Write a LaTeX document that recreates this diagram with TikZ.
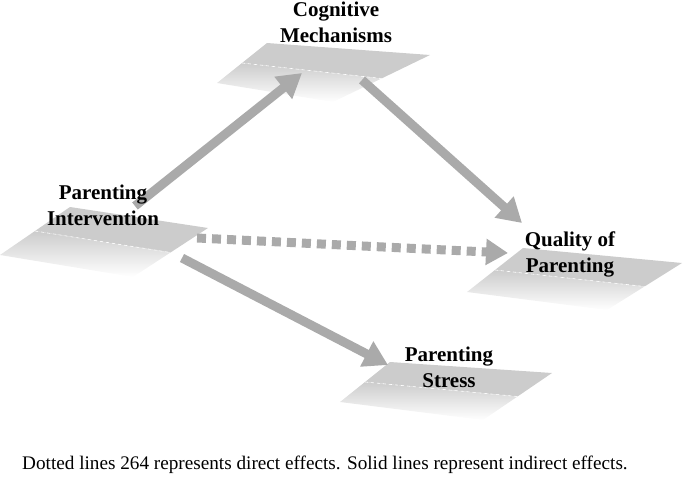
\documentclass[tikz,border=0pt]{standalone}
\usepackage{fontspec}
\setmainfont{Liberation Serif}
\usepackage{tikz}
\usetikzlibrary{arrows.meta, calc}
\definecolor{plategray}{RGB}{204,204,204}
\definecolor{arrowgray}{RGB}{170,170,170}

% tilted plate: corners top-left, top-right, bottom-right, bottom-left
\newcommand{\drawplate}[4]{%
  \coordinate (pa) at (#1);
  \coordinate (pb) at (#2);
  \coordinate (pc) at (#3);
  \coordinate (pd) at (#4);
  \coordinate (pm1) at ($(pa)!0.5!(pd)$);
  \coordinate (pm2) at ($(pb)!0.5!(pc)$);
  \fill[plategray] (pa) -- (pb) -- (pm2) -- (pm1) -- cycle;
  \shade[top color=plategray, bottom color=white] (pm1) -- (pm2) -- (pc) -- (pd) -- cycle;
  \draw[white, dashed, line width=0.6pt] (pm1) -- (pm2);}

\begin{document}
\begin{tikzpicture}[
    x=1pt, y=-1pt,
    plabel/.style={align=center, font=\fontsize{21}{26}\selectfont\bfseries, inner sep=0pt},
    note/.style={font=\fontsize{19.2}{22}\selectfont, inner sep=0pt},
    arrow/.style={-{Triangle[length=24pt, width=27pt]}, line width=9pt, draw=arrowgray},
    dottedarrow/.style={-{Triangle[length=22pt, width=25pt]}, line width=9pt, draw=arrowgray, dash pattern=on 9pt off 6pt}
]
\useasboundingbox (0,0) rectangle (685,479);
% plates
\drawplate{267,43}{430,55}{333,102}{217,83}
\drawplate{70,207}{208,228}{133,277}{0,255}
\drawplate{523,248}{682,263}{607,310}{467,292}
\drawplate{390,362}{552,373}{483,420}{340,402}
% connector ends
\coordinate (interv-up) at (135,206);
\coordinate (interv-mid) at (197,238);
\coordinate (interv-low) at (182,258);
\coordinate (cogn-in) at (302,73);
\coordinate (cogn-out) at (362,80);
\coordinate (qual-in) at (522,223);
\coordinate (qual-mid) at (508,253);
\coordinate (stress-in) at (388,365);
% connectors
\draw[arrow] (interv-up) -- (cogn-in);
\draw[arrow] (cogn-out) -- (qual-in);
\draw[dottedarrow] (interv-mid) -- (qual-mid);
\draw[arrow] (interv-low) -- (stress-in);
% labels
\node[plabel] (cogn) at (336,22) {Cognitive\\Mechanisms};
\node[plabel] (interv) at (103,205) {Parenting\\Intervention};
\node[plabel] (qual) at (570,254) {Quality of\\Parenting};
\node[plabel] (stress) at (449,367) {Parenting\\Stress};
\node[note, anchor=west] (caption) at (22,465) {Dotted lines 264 represents direct effects. Solid lines represent indirect effects.};
\end{tikzpicture}
\end{document}
